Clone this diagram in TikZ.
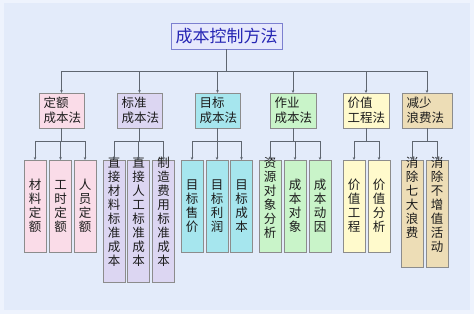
\documentclass[tikz,border=0pt]{standalone}
\usepackage{fontspec}
\setmainfont{Noto Sans CJK SC}
\usetikzlibrary{arrows.meta,calc}
\definecolor{bgc}{HTML}{E3EBFA}
\definecolor{bgedge}{HTML}{EEF3FD}
\definecolor{linec}{HTML}{5F6670}
\definecolor{boxline}{HTML}{8C8C8C}
\definecolor{rootfill}{HTML}{E6E8FC}
\definecolor{rootline}{HTML}{7C80D0}
\definecolor{roottext}{HTML}{2626B4}
\definecolor{cA}{HTML}{FADCE8}
\definecolor{cB}{HTML}{DCD6F2}
\definecolor{cC}{HTML}{A6E6EE}
\definecolor{cD}{HTML}{C9F4C9}
\definecolor{cE}{HTML}{FFFACC}
\definecolor{cF}{HTML}{EDDDB6}
\definecolor{txt}{HTML}{1C1C1C}
\tikzset{
  conn/.style={draw=linec, line width=0.9pt},
  arr/.style={conn, -{Stealth[length=3pt,width=2.6pt]}},
  boxbase/.style={draw=boxline, line width=0.8pt, inner sep=0pt, outer sep=0pt},
  midbox/.style={boxbase, minimum height=35pt, anchor=north west},
  leafbox/.style={boxbase, minimum width=22pt, anchor=north west},
  midtext/.style={text=txt, font=\fontsize{12.5}{15}\selectfont, align=left, inner sep=0pt, anchor=west},
  leaftext/.style={text=txt, font=\fontsize{12.5}{14}\selectfont, align=center, inner sep=0pt},
}
\begin{document}
\begin{tikzpicture}[x=1pt,y=-1pt]
\useasboundingbox (0,0) rectangle (474,314);
\fill[bgedge] (0,0) rectangle (474,314);
\fill[bgc] (4,3) rectangle (470,310);

% root
\node[draw=rootline, fill=rootfill, line width=0.8pt, minimum width=111pt, minimum height=26pt, inner sep=0pt,
      text=roottext, font=\fontsize{17}{17}\selectfont] (root) at (226.5,36) {成本控制方法};

% level 2
\node[midbox, fill=cA, minimum width=45pt] (A) at (39,93) {};
\node[midbox, fill=cB, minimum width=45pt] (B) at (117,93) {};
\node[midbox, fill=cC, minimum width=45pt] (C) at (195,93) {};
\node[midbox, fill=cD, minimum width=46pt] (D) at (270,93) {};
\node[midbox, fill=cE, minimum width=46pt] (E) at (343,93) {};
\node[midbox, fill=cF, minimum width=50pt] (F) at (402,93) {};
\foreach \n/\t in {A/定额\\成本法, B/标准\\成本法, C/目标\\成本法, D/作业\\成本法, E/价值\\工程法, F/减少\\浪费法}
  \node[midtext] (\n t) at ($(\n.west)+(4.5pt,0)$) {\t};

% level 3 leaves: name/x/bottom/colour
\foreach \n/\x/\b/\c in {A1/24/252/cA, A2/49.5/252/cA, A3/74/252/cA,
                         B1/103/282/cB, B2/127.5/282/cB, B3/152.5/282/cB,
                         C1/181/252/cC, C2/206/252/cC, C3/230.5/252/cC,
                         D1/259/252/cD, D2/284/252/cD, D3/309/252/cD,
                         E1/343/252/cE, E2/368/252/cE,
                         F1/401/267/cF, F2/426/267/cF}
  \node[leafbox, fill=\c, minimum height={\b-160}] (\n) at (\x,160) {};

% centred texts (4 characters)
\foreach \n/\t in {A1/材\\料\\定\\额, A2/工\\时\\定\\额, A3/人\\员\\定\\额,
                   C1/目\\标\\售\\价, C2/目\\标\\利\\润, C3/目\\标\\成\\本,
                   D2/成\\本\\对\\象, D3/成\\本\\动\\因,
                   E1/价\\值\\工\\程, E2/价\\值\\分\\析}
  \node[leaftext] (\n t) at (\n.center) {\t};
% top-aligned texts
\foreach \n/\t in {B1/直\\接\\材\\料\\标\\准\\成\\本, B2/直\\接\\人\\工\\标\\准\\成\\本, B3/制\\造\\费\\用\\标\\准\\成\\本,
                   D1/资\\源\\对\\象\\分\\析,
                   F1/消\\除\\七\\大\\浪\\费, F2/消\\除\\不\\增\\值\\活\\动}
  \node[leaftext, anchor=north] (\n t) at ($(\n.north)+(0,3.5pt)$) {\t};

% root to level 2
\coordinate (top) at (root.south |- 0,71);
\draw[conn] (root.south) -- (top);
\draw[conn] (A.north |- top) -- (F.north |- top);
\foreach \n in {A,B,C,D,E,F}
  \draw[arr] (\n.north |- top) -- (\n.north);

% level 2 to leaves
\foreach \p/\first/\last/\kids in {A/A1/A3/{A1,A2,A3}, B/B1/B3/{B1,B2,B3}, C/C1/C3/{C1,C2,C3},
                                  D/D1/D3/{D1,D2,D3}, E/E1/E2/{E1,E2}, F/F1/F2/{F1,F2}} {
  \coordinate (bus\p) at (\p.south |- 0,141);
  \draw[conn] (\p.south) -- (bus\p);
  \draw[conn] (\first.north |- bus\p) -- (\last.north |- bus\p);
  \foreach \k in \kids
    \draw[arr] (\k.north |- bus\p) -- (\k.north);
}
\end{tikzpicture}
\end{document}
